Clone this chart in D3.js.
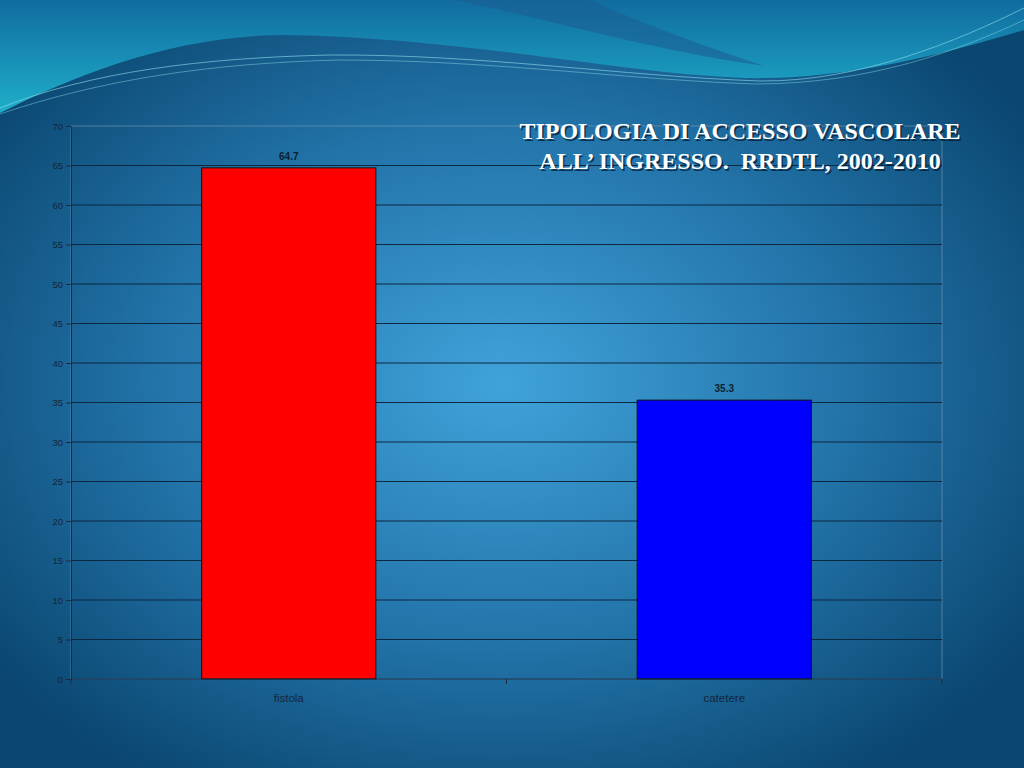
<!DOCTYPE html>
<html>
<head>
<meta charset="utf-8">
<script src="https://cdn.jsdelivr.net/npm/d3@7"></script>
<style>
  html, body { margin: 0; padding: 0; overflow: hidden; }
  svg { display: block; }
</style>
</head>
<body>
<div id="chart"></div>
<script>
const categories = ["fistola", "catetere"];
const values = [64.7, 35.3];
const barColors = ["#ff0000", "#0000ff"];
const yTicks = [0, 5, 10, 15, 20, 25, 30, 35, 40, 45, 50, 55, 60, 65, 70];
const titleLines = ["TIPOLOGIA DI ACCESSO VASCOLARE", "ALL\u2019 INGRESSO.  RRDTL, 2002-2010"];

const width = 1024, height = 768;
const margin = { top: 126, right: 82, bottom: 89, left: 71 };
const innerW = width - margin.left - margin.right,
    innerH = height - margin.top - margin.bottom;

const svg = d3.select("#chart").append("svg")
    .attr("width", width)
    .attr("height", height);

const defs = svg.append("defs");

// slide background
const bg = defs.append("radialGradient")
    .attr("id", "bg")
    .attr("cx", "49%").attr("cy", "50%").attr("r", "62%");
bg.append("stop").attr("offset", "0%").attr("stop-color", "#40a3da");
bg.append("stop").attr("offset", "55%").attr("stop-color", "#2273a8");
bg.append("stop").attr("offset", "100%").attr("stop-color", "#0a4670");

const cap = defs.append("linearGradient")
    .attr("id", "cap")
    .attr("gradientUnits", "userSpaceOnUse")
    .attr("x1", 0).attr("y1", 0).attr("x2", 0).attr("y2", 115);
cap.append("stop").attr("offset", "0%").attr("stop-color", "#116c9f");
cap.append("stop").attr("offset", "100%").attr("stop-color", "#1fb0cb");

svg.append("rect")
    .attr("width", width).attr("height", height)
    .attr("fill", "url(#bg)");

// top wave decoration
svg.append("path")
    .attr("d", "M0,0 L1024,0 L1024,30 C930,58 840,80 745,78 C620,74 470,38 285,35 C180,35 80,72 0,113 Z")
    .attr("fill", "url(#cap)");

svg.append("path")
    .attr("d", "M455,0 C560,22 660,52 765,66 C690,42 620,14 590,0 Z")
    .attr("fill", "#1b5f92")
    .attr("opacity", 0.6);

svg.append("path")
    .attr("d", "M0,108 C90,72 200,58 330,55 C480,54 620,76 760,81 C860,82 960,40 1024,8")
    .attr("fill", "none")
    .attr("stroke", "#8fe0ee")
    .attr("stroke-width", 1)
    .attr("opacity", 0.6);

svg.append("path")
    .attr("d", "M0,114 C100,80 210,63 340,60 C490,60 630,80 755,84 C870,84 960,50 1024,20")
    .attr("fill", "none")
    .attr("stroke", "#8fe0ee")
    .attr("stroke-width", 1)
    .attr("opacity", 0.45);

const g = svg.append("g")
    .attr("transform", "translate(" + margin.left + "," + margin.top + ")");

const x = d3.scaleBand()
    .domain(categories)
    .range([0, innerW])
    .paddingInner(0.6)
    .paddingOuter(0.3);

const y = d3.scaleLinear()
    .domain([0, 70])
    .range([innerH, 0]);

// plot border
g.append("rect")
    .attr("width", innerW).attr("height", innerH)
    .attr("fill", "none")
    .attr("stroke", "#7b9cb8")
    .attr("stroke-opacity", 0.6);

// grid lines
g.selectAll(".grid")
    .data(yTicks.filter(d => d > 0 && d < 70))
    .enter().append("line")
    .attr("class", "grid")
    .attr("x1", 0).attr("x2", innerW)
    .attr("y1", d => y(d)).attr("y2", d => y(d))
    .attr("stroke", "#0c2740")
    .attr("stroke-width", 1);

// bars
g.selectAll(".bar")
    .data(values)
    .enter().append("rect")
    .attr("class", "bar")
    .attr("x", (d, i) => x(categories[i]))
    .attr("y", d => y(d))
    .attr("width", x.bandwidth())
    .attr("height", d => innerH - y(d))
    .attr("fill", (d, i) => barColors[i])
    .attr("stroke", "#111")
    .attr("stroke-width", 1);

g.selectAll(".val")
    .data(values)
    .enter().append("text")
    .attr("class", "val")
    .attr("x", (d, i) => x(categories[i]) + x.bandwidth() / 2)
    .attr("y", d => y(d) - 8)
    .attr("text-anchor", "middle")
    .style("font-family", "Liberation Sans, Arial, sans-serif")
    .style("font-size", "10px")
    .style("font-weight", "bold")
    .attr("fill", "#0e1f30")
    .text(d => d.toFixed(1));

// y axis
const yAxis = d3.axisLeft(y)
    .tickValues(yTicks)
    .tickSize(5)
    .tickPadding(3);

const ya = g.append("g").call(yAxis);
ya.select(".domain").attr("stroke", "#1a2c3e");
ya.selectAll(".tick line").attr("stroke", "#1a2c3e");
ya.selectAll(".tick text")
    .attr("fill", "#13263a")
    .style("font-family", "Liberation Sans, Arial, sans-serif")
    .style("font-size", "9.5px");

// x axis: ticks between categories
const xa = g.append("g")
    .attr("transform", "translate(0," + innerH + ")");
xa.append("line")
    .attr("x1", 0).attr("x2", innerW)
    .attr("stroke", "#0c2740");
xa.selectAll(".xt")
    .data(d3.range(categories.length + 1))
    .enter().append("line")
    .attr("x1", i => i * innerW / categories.length)
    .attr("x2", i => i * innerW / categories.length)
    .attr("y1", 0).attr("y2", 5)
    .attr("stroke", "#1a2c3e");
xa.selectAll(".xl")
    .data(categories)
    .enter().append("text")
    .attr("x", d => x(d) + x.bandwidth() / 2)
    .attr("y", 23)
    .attr("text-anchor", "middle")
    .attr("fill", "#13263a")
    .style("font-family", "Liberation Sans, Arial, sans-serif")
    .style("font-size", "11.5px")
    .text(d => d);

// title
const title = svg.append("g");
titleLines.forEach(function (t, i) {
    title.append("text")
        .attr("x", 740 + 1.5)
        .attr("y", 139 + i * 30 + 1.5)
        .attr("text-anchor", "middle")
        .attr("fill", "#06223a")
        .attr("opacity", 0.8)
        .style("font-family", "Liberation Serif, serif")
        .style("font-size", "24px")
        .style("font-weight", "bold")
        .style("white-space", "pre")
        .text(t);
    title.append("text")
        .attr("x", 740)
        .attr("y", 139 + i * 30)
        .attr("text-anchor", "middle")
        .attr("fill", "#ffffff")
        .style("font-family", "Liberation Serif, serif")
        .style("font-size", "24px")
        .style("font-weight", "bold")
        .style("white-space", "pre")
        .text(t);
});
</script>
</body>
</html>
